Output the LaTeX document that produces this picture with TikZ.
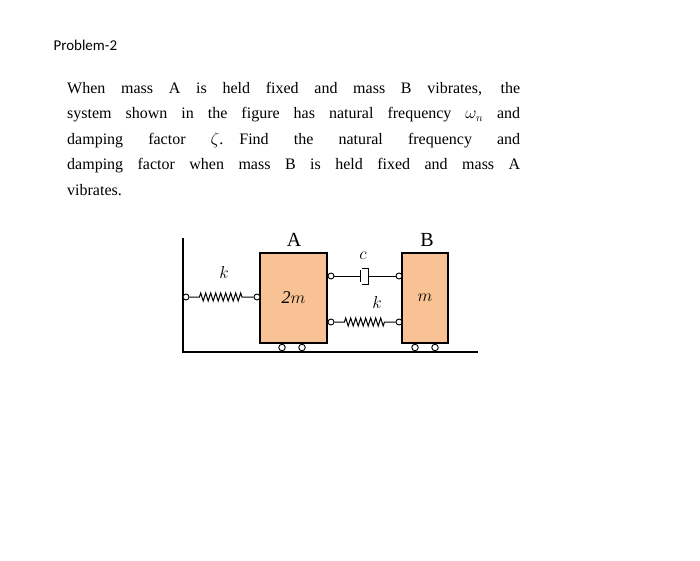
\documentclass[tikz,border=0pt]{standalone}
\usepackage{fontspec}
\setmainfont{Liberation Serif}
\newfontfamily\calib{Carlito}
\usetikzlibrary{decorations.pathmorphing}
\definecolor{massfill}{HTML}{F9C294}
\begin{document}
\begin{tikzpicture}[x=1pt,y=-1pt,
  mass/.style={draw,line width=1.2pt,fill=massfill},
  pin/.style={circle,draw,line width=0.9pt,fill=white,inner sep=0pt,minimum size=6pt},
  springline/.style={line width=1pt,decorate,decoration={zigzag,segment length=5pt,amplitude=4pt,pre length=10pt,post length=10pt}},
  lbl/.style={font=\fontsize{18}{18}\selectfont\itshape}]
\useasboundingbox (0,0) rectangle (700,561);
\node[anchor=west,font=\calib\fontsize{15}{18}\selectfont] (title) at (50,45) {Problem-2};
\node[anchor=north west,text width=453pt,align=justify,inner sep=0pt,font=\fontsize{16}{25.5}\selectfont] (para) at (67,82)
 {When mass A is held fixed and mass B vibrates, the\linebreak system shown in the figure has natural frequency $\omega_n$ and\linebreak damping factor $\zeta$.\quad Find the natural frequency and\linebreak damping factor when mass B is held fixed and mass A\linebreak vibrates.};
% wall and ground
\coordinate (wt) at (183,238);
\coordinate (wb) at (183,352);
\coordinate (ge) at (478,352);
\draw[line width=1.3pt] (wt) -- (wb) -- (ge);
% masses
\node[mass,minimum width=67pt,minimum height=90pt,inner sep=0pt] (A) at (293.5,298) {};
\node[mass,minimum width=46pt,minimum height=90pt,inner sep=0pt] (B) at (425,298) {};
\node[lbl] (Am) at (A.center) {2$m$};
\node[lbl] (Bm) at (B.center) {$m$};
\node[font=\fontsize{20}{20}\selectfont] (Al) at (294,240) {A};
\node[font=\fontsize{20}{20}\selectfont] (Bl) at (427,240) {B};
% wheels
\foreach \n/\x in {a1/282,a2/302,b1/415,b2/435}
  \node[pin,minimum size=6.5pt] (\n) at (\x,347.5) {};
% left spring
\node[pin] (p1) at (186,297) {};
\node[pin] (p2) at (257,297) {};
\draw[springline] (p1) -- (p2);
\node[lbl] (k1) at (224,272) {$k$};
% damper
\node[pin] (p3) at (331,276) {};
\node[pin] (p4) at (399,276) {};
\coordinate (d1) at (360,276);
\coordinate (d2) at (368,276);
\draw[line width=1pt] (p3) -- (d1);
\draw[line width=1pt] (d1) ++(0,-6) -- ++(0,12);
\draw[line width=1pt] (d2) ++(-6,-8) -- ++(6,0) -- ++(0,16) -- ++(-6,0);
\draw[line width=1pt] (d2) -- (p4);
\node[lbl] (c) at (363,256) {$c$};
% lower spring
\node[pin] (p5) at (331,322) {};
\node[pin] (p6) at (399,322) {};
\draw[springline] (p5) -- (p6);
\node[lbl] (k2) at (377,302) {$k$};
\end{tikzpicture}
\end{document}
